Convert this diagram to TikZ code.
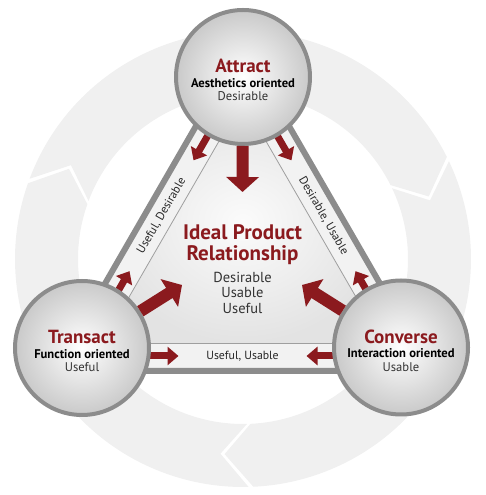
\documentclass[tikz,border=0pt]{standalone}
\usepackage{fontspec}
\setmainfont{PT Sans}
\usetikzlibrary{positioning, calc, arrows.meta}

\definecolor{darkred}{HTML}{8B1A1E}
\definecolor{rimgray}{HTML}{8C8C8C}
\definecolor{ringgray}{HTML}{F0F0F0}
\definecolor{lanegray}{HTML}{F2F2F2}
\definecolor{textgray}{HTML}{333333}

\newcommand{\stagename}[1]{{\fontsize{19}{21}\selectfont\bfseries\color{darkred}#1}}
\newcommand{\stagefocus}[1]{{\bfseries\color{black}#1}}
\newcommand{\stagevalue}[1]{{\color{textgray}#1}}

\tikzstyle{stage} = [circle, 
minimum size=134pt, 
inner sep=0pt,
line width=4pt, 
draw=rimgray, 
inner color=white, 
outer color=gray!42]
\tikzstyle{stagetext} = [align=center,
inner sep=0pt,
font=\fontsize{12.6}{13.5}\selectfont]
\tikzstyle{bigarrow} = [line width=12pt, draw=darkred, 
-{Triangle[width=32pt, length=15pt]}]
\tikzstyle{lanearrow} = [line width=7pt, draw=darkred, 
-{Triangle[width=18pt, length=11pt]}]
\tikzstyle{lanelabel} = [font=\fontsize{11.8}{12}\selectfont, text=black!85]

\begin{document}
\begin{tikzpicture}[x=1pt, y=1pt]
    \useasboundingbox (0,0) rectangle (485,495);

    % outer ring of three arrows
    \begin{scope}[shift={(243,236)}]
        \foreach \a/\b in {18/152, 152/264, 264/378}
            \fill[ringgray] (\a+8.6:228) -- (\a+0.6:196) -- (\a+8.6:165)
                arc[start angle=\a+8.6, end angle=\b+7.4, radius=165]
                -- (\b-0.6:196) -- (\b+7.4:228)
                arc[start angle=\b+7.4, end angle=\a+8.6, radius=228] -- cycle;
    \end{scope}

    % triangle with lanes
    \coordinate (hub) at (242.5,232.5);
    \draw[line width=6pt, draw=rimgray, fill=lanegray]
        ($(hub)+(90:217)$) -- ($(hub)+(210:217)$) -- ($(hub)+(330:217)$) -- cycle;
    \draw[line width=0.8pt, draw=gray!75, inner color=gray!3, outer color=gray!22]
        ($(hub)+(90:162)$) -- ($(hub)+(210:162)$) -- ($(hub)+(330:162)$) -- cycle;

    \foreach \s/\r/\txt in {150/60/{Useful, Desirable}, 270/0/{Useful, Usable}, 30/-60/{Desirable, Usable}} {
        \coordinate (lane\s) at ($(hub)+(\s:93.5)$);
        \node (label\s) [lanelabel, rotate=\r] at (lane\s) {\txt};
        \coordinate (taila\s) at ($(lane\s)+(\s-90:98)$);
        \coordinate (tipa\s) at ($(lane\s)+(\s-90:64)$);
        \coordinate (tailb\s) at ($(lane\s)+(\s+90:98)$);
        \coordinate (tipb\s) at ($(lane\s)+(\s+90:64)$);
        \draw[lanearrow] (taila\s) -- (tipa\s);
        \draw[lanearrow] (tailb\s) -- (tipb\s);
    }

    % the three stages
    \node (attract) [stage] at (243,418) {};
    \node (transact) [stage] at (82,147) {};
    \node (converse) [stage] at (401,147.5) {};
    \node (attracttext) [stagetext] at ([yshift=-3pt]attract.center) {\stagename{Attract}\\[1pt]
        \stagefocus{Aesthetics oriented}\\\stagevalue{Desirable}};
    \node (transacttext) [stagetext] at ([yshift=-3pt]transact.center) {\stagename{Transact}\\[1pt]
        \stagefocus{Function oriented}\\\stagevalue{Useful}};
    \node (conversetext) [stagetext] at ([yshift=-3pt]converse.center) {\stagename{Converse}\\[1pt]
        \stagefocus{Interaction oriented}\\\stagevalue{Usable}};

    % centre
    \node (ideal) [text=darkred, font=\fontsize{21}{21}\selectfont\bfseries, align=center] at (242.5,250) {Ideal Product\\Relationship};
    \node (qualities) [below=0pt of ideal, text=textgray, font=\fontsize{14.5}{15.5}\selectfont, align=center] {Desirable\\Usable\\Useful};

    \coordinate (downtip) at (242.5,303);
    \coordinate (lefttip) at (182,210);
    \coordinate (righttip) at (302,210);
    \draw [bigarrow] (attract) -- (downtip);
    \draw [bigarrow] (transact) -- (lefttip);
    \draw [bigarrow] (converse) -- (righttip);
\end{tikzpicture}
\end{document}
